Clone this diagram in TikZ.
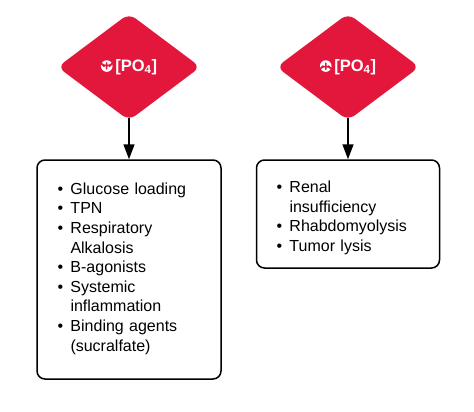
\documentclass[tikz,border=0pt]{standalone}
\usepackage{fontspec}
\setmainfont{Liberation Sans}
\usepackage{xcolor}
\usepackage{tikz}
\usetikzlibrary{arrows.meta,shapes.geometric,positioning}
\definecolor{poRed}{RGB}{227,23,60}

% small round arrow icon (#1 = 1 down, -1 up)
\newcommand{\arrowicon}[1]{%
  \tikz[baseline=-5.2pt,x=1pt,y=1pt]{%
    \fill[white] (0,0) circle (5.8pt);
    \draw[poRed, line width=1.5pt, line cap=round, line join=round, yscale=#1]
      (0,3.3) -- (0,-2.9) (-2.7,-0.2) -- (0,-2.9) -- (2.7,-0.2);}}
% bullet line with hanging indent
\newcommand{\li}[1]{\par\hangindent=13pt\hangafter=1\noindent
  \makebox[13pt][l]{\textbullet}#1}

\begin{document}
\begin{tikzpicture}[
  x=1pt, y=-1pt,
  po/.style     = {diamond, fill=poRed, text=white, inner sep=0pt,
                   minimum width=143pt, minimum height=107pt,
                   rounded corners=8pt,
                   font=\fontsize{16.5}{18}\selectfont\bfseries},
  listbox/.style = {draw=black, line width=1.5pt, rounded corners=8pt,
                    fill=white, inner xsep=20pt, inner ysep=0pt,
                    text width=143pt, align=left,
                    font=\fontsize{16}{19.6}\selectfont},
  arr/.style    = {line width=1.5pt, -{Triangle[length=15pt,width=11pt]},
                   shorten <=-3pt},
]
\useasboundingbox (0,0) rectangle (474,412);

%% -- column positions --------------------------------------------------
\def\cL{129}   % low phosphate
\def\cR{348}   % high phosphate

%% -- decision diamonds ---------------------------------------------------
\node[po] (low)  at (\cL, 67) {\arrowicon{1}\,[PO\textsubscript{4}]};
\node[po] (high) at (\cR, 67) {\arrowicon{-1}\,[PO\textsubscript{4}]};

%% -- cause lists -------------------------------------------------------------
\node[listbox, minimum width=184pt, minimum height=219pt] (lowlist)
  at (\cL, 269.5)
  {\li{Glucose loading}
   \li{TPN}
   \li{Respiratory\newline Alkalosis}
   \li{B-agonists}
   \li{Systemic\newline inflammation}
   \li{Binding agents\newline (sucralfate)}
   \par\kern10pt};
\node[listbox, minimum width=183pt, minimum height=108pt] (highlist)
  at (\cR, 214)
  {\li{Renal\newline insufficiency}
   \li{Rhabdomyolysis}
   \li{Tumor lysis}};

%% -- arrows ------------------------------------------------------------------
\draw[arr] (low.south)  -- (lowlist.north);
\draw[arr] (high.south) -- (highlist.north);

\end{tikzpicture}
\end{document}
